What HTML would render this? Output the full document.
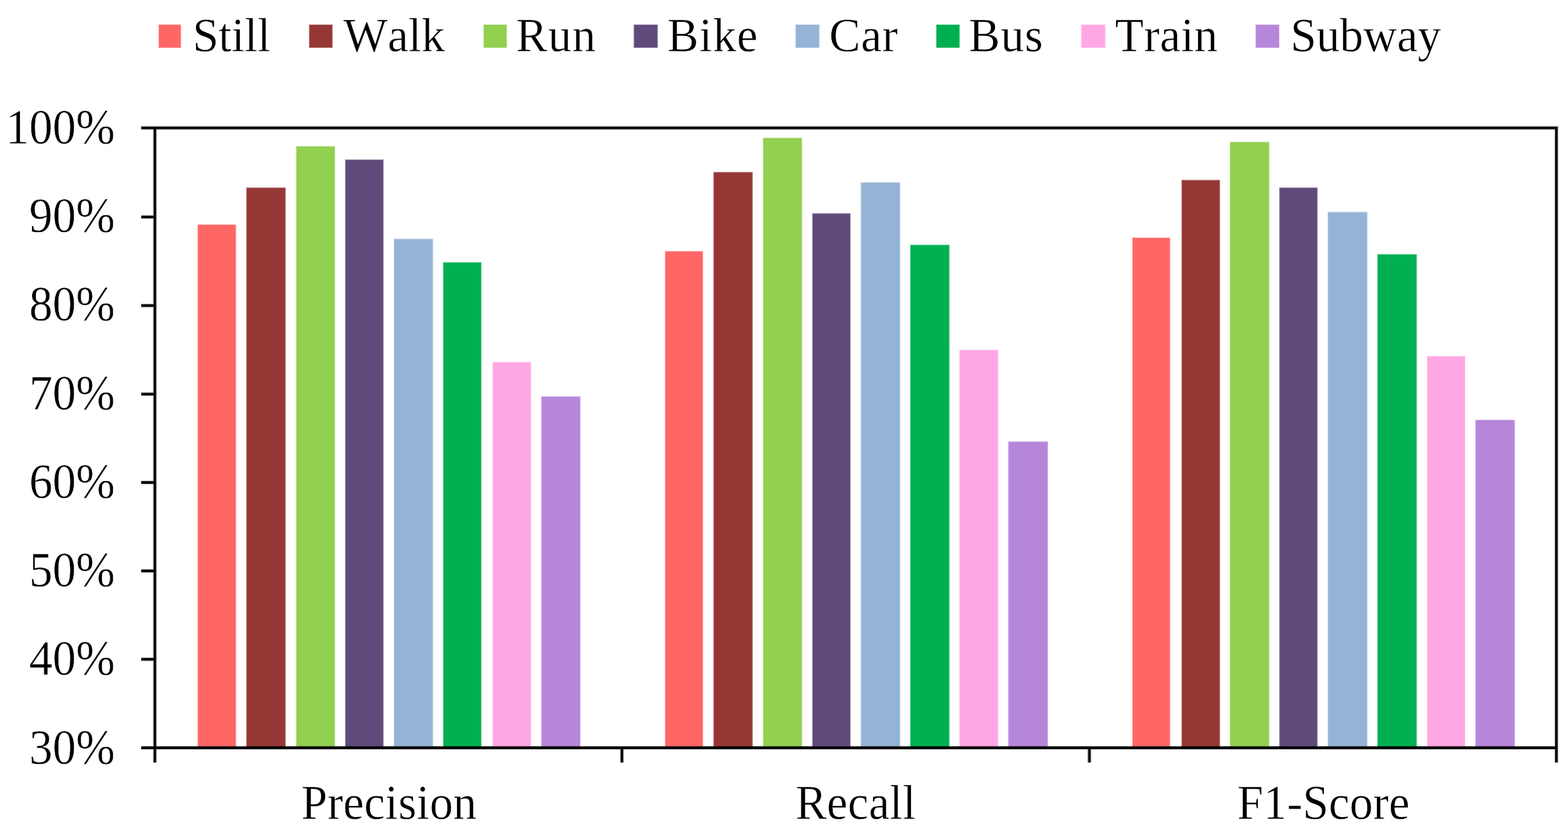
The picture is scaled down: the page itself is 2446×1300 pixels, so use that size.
<!DOCTYPE html>
<html lang="en">
<head>
<meta charset="utf-8">
<title>Precision Recall F1-Score</title>
<style>
html,body{margin:0;padding:0;background:#fff;}
body{width:2446px;height:1300px;}
svg{display:block;}
text{font-family:"Liberation Serif",serif;font-size:73px;fill:#000;font-kerning:none;font-variant-ligatures:none;text-rendering:geometricPrecision;stroke:#fff;stroke-width:0.5px;}
</style>
</head>
<body>
<svg width="2446" height="1300" viewBox="0 0 2446 1300">
<rect x="0" y="0" width="2446" height="1300" fill="#ffffff"/>
<g id="legend">
<rect x="248.1" y="39" width="33.6" height="35" fill="#FF6666" stroke="#FF6666" stroke-width="2" stroke-opacity="0.5"/>
<text transform="translate(300.4,80.4) scale(1,1.025)" style="letter-spacing:0.00px">Still</text>
<rect x="482.8" y="39" width="35.3" height="35" fill="#953735" stroke="#953735" stroke-width="2" stroke-opacity="0.5"/>
<text transform="translate(535.8,80.4) scale(1,1.025)" style="letter-spacing:0.00px">Walk</text>
<rect x="754.9" y="39" width="35.1" height="35" fill="#92D050" stroke="#92D050" stroke-width="2" stroke-opacity="0.5"/>
<text transform="translate(805.0,80.4) scale(1,1.025)" style="letter-spacing:1.25px">Run</text>
<rect x="989.3" y="39" width="36.1" height="35" fill="#604A7B" stroke="#604A7B" stroke-width="2" stroke-opacity="0.5"/>
<text transform="translate(1041.0,80.4) scale(1,1.025)" style="letter-spacing:1.00px">Bike</text>
<rect x="1241.6" y="39" width="36.0" height="35" fill="#95B3D7" stroke="#95B3D7" stroke-width="2" stroke-opacity="0.5"/>
<text transform="translate(1293.6,80.4) scale(1,1.025)" style="letter-spacing:0.75px">Car</text>
<rect x="1461.1" y="39" width="35.3" height="35" fill="#00B050" stroke="#00B050" stroke-width="2" stroke-opacity="0.5"/>
<text transform="translate(1511.3,80.4) scale(1,1.025)" style="letter-spacing:1.00px">Bus</text>
<rect x="1687.2" y="39" width="36.5" height="35" fill="#FFA7E3" stroke="#FFA7E3" stroke-width="2" stroke-opacity="0.5"/>
<text transform="translate(1739.4,80.4) scale(1,1.025)" style="letter-spacing:0.50px">Train</text>
<rect x="1959.4" y="39" width="35.6" height="35" fill="#B686DA" stroke="#B686DA" stroke-width="2" stroke-opacity="0.5"/>
<text transform="translate(2012.9,80.4) scale(1,1.025)" style="letter-spacing:0.00px">Subway</text>
</g>
<g id="bars" stroke-width="2" stroke-opacity="0.5">
<rect x="308.9" y="351.1" width="58.6" height="815.9" fill="#FF6666" stroke="#FF6666"/>
<rect x="384.9" y="293.4" width="60.0" height="873.6" fill="#953735" stroke="#953735"/>
<rect x="462.6" y="228.8" width="59.2" height="938.2" fill="#92D050" stroke="#92D050"/>
<rect x="539.1" y="249.7" width="58.5" height="917.3" fill="#604A7B" stroke="#604A7B"/>
<rect x="615.1" y="373.4" width="59.7" height="793.6" fill="#95B3D7" stroke="#95B3D7"/>
<rect x="691.9" y="410.0" width="58.4" height="757.0" fill="#00B050" stroke="#00B050"/>
<rect x="769.1" y="565.7" width="58.7" height="601.3" fill="#FFA7E3" stroke="#FFA7E3"/>
<rect x="845.1" y="619.3" width="59.6" height="547.7" fill="#B686DA" stroke="#B686DA"/>
<rect x="1038.0" y="392.6" width="58.0" height="774.4" fill="#FF6666" stroke="#FF6666"/>
<rect x="1113.6" y="269.2" width="59.9" height="897.8" fill="#953735" stroke="#953735"/>
<rect x="1190.9" y="215.7" width="59.6" height="951.3" fill="#92D050" stroke="#92D050"/>
<rect x="1267.8" y="333.6" width="58.3" height="833.4" fill="#604A7B" stroke="#604A7B"/>
<rect x="1343.5" y="285.3" width="60.0" height="881.7" fill="#95B3D7" stroke="#95B3D7"/>
<rect x="1420.5" y="382.7" width="59.9" height="784.3" fill="#00B050" stroke="#00B050"/>
<rect x="1497.4" y="546.7" width="59.0" height="620.3" fill="#FFA7E3" stroke="#FFA7E3"/>
<rect x="1573.4" y="689.7" width="60.6" height="477.3" fill="#B686DA" stroke="#B686DA"/>
<rect x="1767.0" y="371.5" width="57.7" height="795.5" fill="#FF6666" stroke="#FF6666"/>
<rect x="1843.8" y="281.5" width="58.6" height="885.5" fill="#953735" stroke="#953735"/>
<rect x="1919.3" y="222.2" width="60.0" height="944.8" fill="#92D050" stroke="#92D050"/>
<rect x="1996.3" y="293.4" width="58.3" height="873.6" fill="#604A7B" stroke="#604A7B"/>
<rect x="2071.9" y="331.5" width="60.4" height="835.5" fill="#95B3D7" stroke="#95B3D7"/>
<rect x="2149.3" y="397.4" width="60.2" height="769.6" fill="#00B050" stroke="#00B050"/>
<rect x="2226.8" y="556.5" width="58.1" height="610.5" fill="#FFA7E3" stroke="#FFA7E3"/>
<rect x="2302.2" y="655.9" width="60.2" height="511.1" fill="#B686DA" stroke="#B686DA"/>
</g>
<g id="axes-fringe" stroke="#000" stroke-width="6.1" stroke-opacity="0.3" fill="none" stroke-linecap="butt">
<path d="M241.6 199.6H2427.9V1167.0H241.6ZM220.3 199.6H241.6M220.3 338.6H241.6M220.3 476.9H241.6M220.3 615.1H241.6M220.3 753.0H241.6M220.3 891.0H241.6M220.3 1028.9H241.6M220.3 1167.0H241.6M241.6 1167.0V1190M970.2 1167.0V1190M1699.4 1167.0V1190M2427.9 1167.0V1190"/>
</g>
<g id="axes" stroke="#000" stroke-width="3.8" stroke-opacity="1" fill="none" stroke-linecap="butt">
<path d="M241.6 199.6H2427.9V1167.0H241.6ZM220.3 199.6H241.6M220.3 338.6H241.6M220.3 476.9H241.6M220.3 615.1H241.6M220.3 753.0H241.6M220.3 891.0H241.6M220.3 1028.9H241.6M220.3 1167.0H241.6M241.6 1167.0V1190M970.2 1167.0V1190M1699.4 1167.0V1190M2427.9 1167.0V1190"/>
</g>
<g id="ylabels" text-anchor="end">
<text transform="translate(179.2,224.0) scale(1,1.055)">100%</text>
<text transform="translate(179.2,362.2) scale(1,1.055)">90%</text>
<text transform="translate(179.2,500.4) scale(1,1.055)">80%</text>
<text transform="translate(179.2,638.6) scale(1,1.055)">70%</text>
<text transform="translate(179.2,776.9) scale(1,1.055)">60%</text>
<text transform="translate(179.2,915.1) scale(1,1.055)">50%</text>
<text transform="translate(179.2,1053.3) scale(1,1.055)">40%</text>
<text transform="translate(179.2,1191.5) scale(1,1.055)">30%</text>
</g>
<g id="xlabels" text-anchor="middle">
<text transform="translate(606.9,1278.2) scale(1,1.045)" style="letter-spacing:0.25px">Precision</text>
<text transform="translate(1334.9,1278.2) scale(1,1.045)" style="letter-spacing:0.26px">Recall</text>
<text transform="translate(2064.5,1278.2) scale(1,1.045)" style="letter-spacing:0.19px">F1-Score</text>
</g>
</svg>
</body>
</html>
